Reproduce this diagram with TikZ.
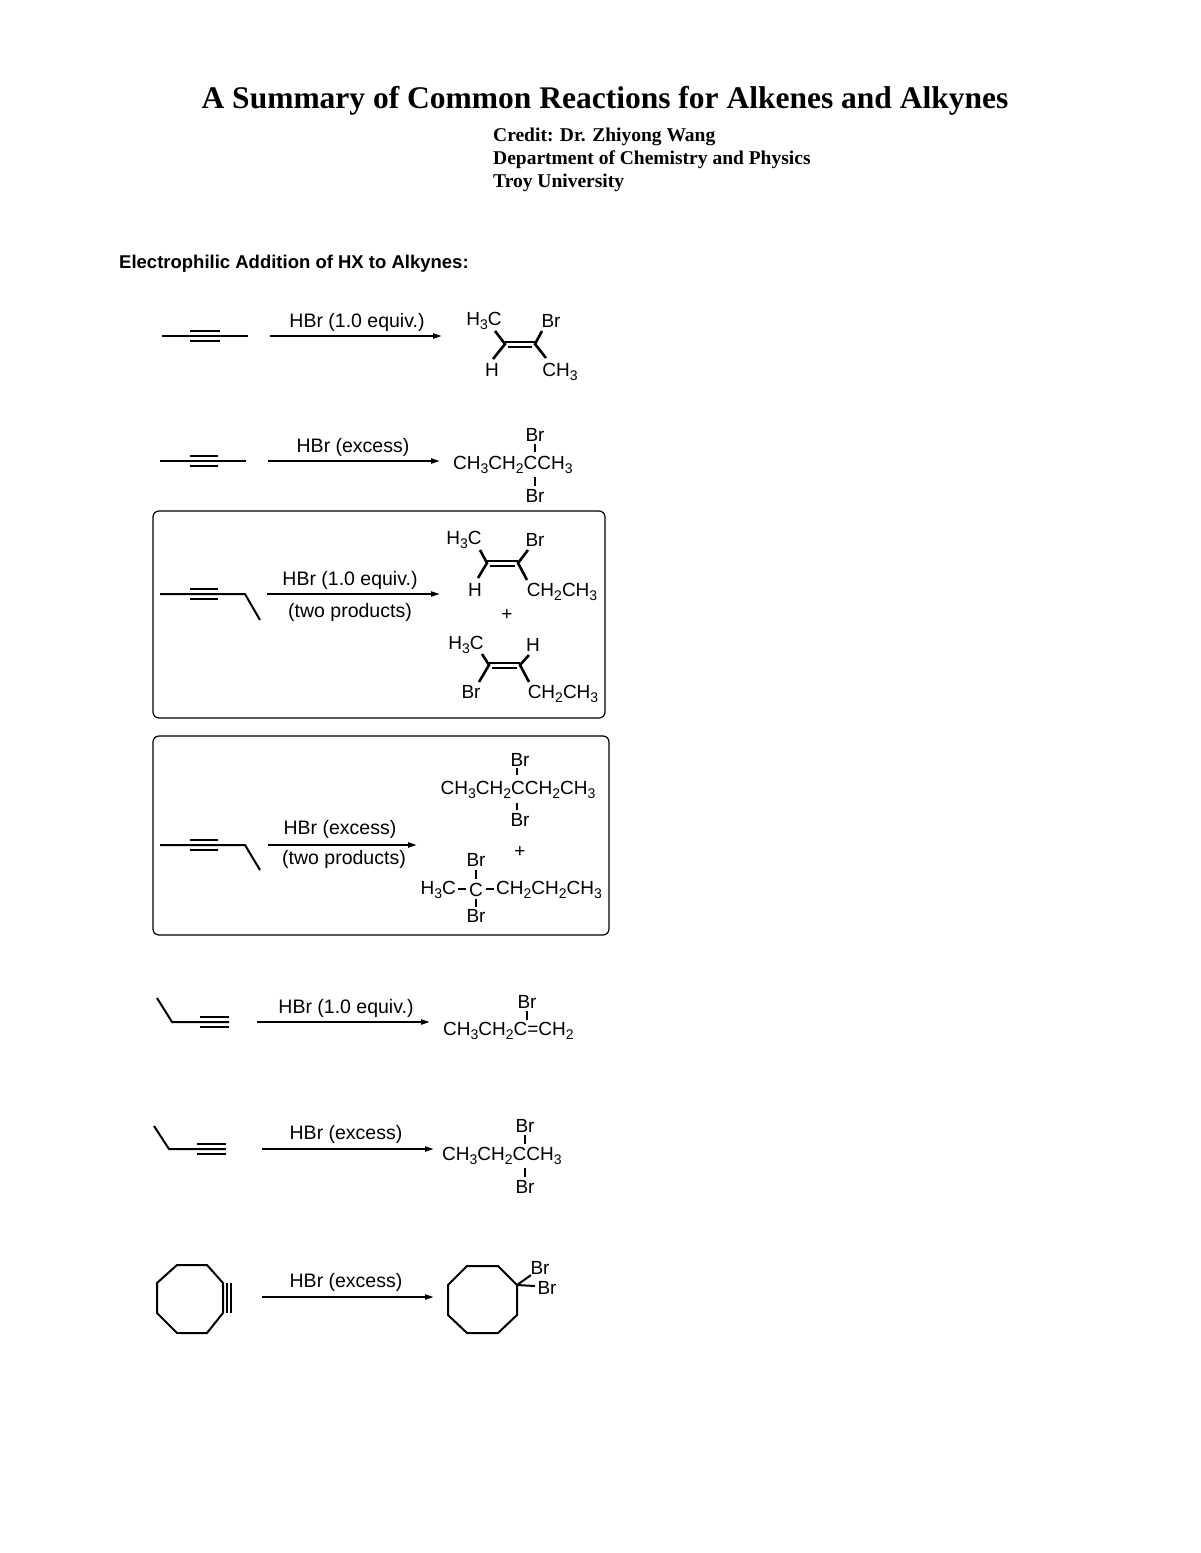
\documentclass[tikz,border=0pt]{standalone}
\usepackage{fontspec}
\setmainfont{Liberation Sans}
\newfontfamily\tms{Liberation Serif}
\usetikzlibrary{arrows.meta}
\newcommand{\sbs}[1]{\raisebox{-0.35ex}{\fontsize{14}{14}\selectfont #1}}
\begin{document}
\begin{tikzpicture}[x=1pt,y=-1pt,
  bd/.style={line width=2pt},
  bdt/.style={line width=2.6pt},
  thin/.style={line width=1.2pt},
  rx/.style={line width=2pt,-{Triangle[length=9pt,width=5pt]}},
  lab/.style={font=\fontsize{19.5}{21}\selectfont,inner sep=0pt},
  ch/.style={font=\fontsize{19}{21}\selectfont,inner sep=0pt},
  bx/.style={draw,line width=1.2pt,rounded corners=6pt}]
\useasboundingbox (0,0) rectangle (1200,1553);
\node[font=\tms\bfseries\fontsize{31.5}{34}\selectfont,inner sep=0pt] (title) at (605,101) {A Summary of Common Reactions for Alkenes and Alkynes};
\node[font=\tms\bfseries\fontsize{19.5}{22}\selectfont,anchor=west,inner sep=0pt] (c1) at (493,137) {Credit: Dr. Zhiyong Wang};
\node[font=\tms\bfseries\fontsize{19.5}{22}\selectfont,anchor=west,inner sep=0pt] (c2) at (493,160) {Department of Chemistry and Physics};
\node[font=\tms\bfseries\fontsize{19.5}{22}\selectfont,anchor=west,inner sep=0pt] (c3) at (493,183) {Troy University};
\node[font=\bfseries\fontsize{18.5}{20}\selectfont,anchor=west,inner sep=0pt] (hd) at (119,264) {Electrophilic Addition of HX to Alkynes:};

% Reaction 1
\draw[bd] (162,336) -- (248,336);
\draw[bd] (190,331) -- (220,331) (190,341) -- (220,341);
\coordinate (a1s) at (270,336); \coordinate (a1e) at (442,336);
\draw[rx] (a1s) -- (a1e);
\node[lab] (l1) at (357,322) {HBr (1.0 equiv.)};
\node[ch] (p1a) at (484,321) {H\sbs{3}C};
\node[ch] (p1b) at (551,321) {Br};
\node[ch] (p1c) at (492,370) {H};
\node[ch] (p1d) at (560,372) {CH\sbs{3}};
\draw[bd] (505,342) -- (535,342) (508,347) -- (532,347);
\draw[bdt] (495,331) -- (505,344) -- (493,359);
\draw[bdt] (542,331) -- (535,344) -- (546,358);

% Reaction 2
\draw[bd] (160,461) -- (246,461);
\draw[bd] (190,456) -- (218,456) (190,466) -- (218,466);
\coordinate (a2s) at (268,461); \coordinate (a2e) at (440,461);
\draw[rx] (a2s) -- (a2e);
\node[lab] (l2) at (353,447) {HBr (excess)};
\node[ch,anchor=west] (p2) at (453,465) {CH\sbs{3}CH\sbs{2}CCH\sbs{3}};
\node[ch] (p2a) at (535,435) {Br};
\node[ch] (p2b) at (535,496) {Br};
\draw[bd] (535,444) -- (535,452) (535,477) -- (535,486);

% Box 1
\draw[bx] (153,511) rectangle (605,718);
\draw[bd] (160,594) -- (245,594) -- (260,620);
\draw[bd] (190,589) -- (218,589) (190,599) -- (218,599);
\coordinate (a3s) at (267,594); \coordinate (a3e) at (440,594);
\draw[rx] (a3s) -- (a3e);
\node[lab] (l3) at (350,580) {HBr (1.0 equiv.)};
\node[lab] (l3b) at (350,612) {(two products)};
\node[ch] (p3a) at (464,540) {H\sbs{3}C};
\node[ch] (p3b) at (535,540) {Br};
\node[ch] (p3c) at (475,590) {H};
\node[ch] (p3d) at (562,592) {CH\sbs{2}CH\sbs{3}};
\draw[bd] (487,561) -- (518,561) (490,566) -- (515,566);
\draw[bdt] (480,550) -- (487,563) -- (478,578);
\draw[bdt] (528,550) -- (518,563) -- (527,580);
\node[ch] (plus1) at (507,615) {+};
\node[ch] (p4a) at (466,645) {H\sbs{3}C};
\node[ch] (p4b) at (533,645) {H};
\node[ch] (p4c) at (471,692) {Br};
\node[ch] (p4d) at (563,694) {CH\sbs{2}CH\sbs{3}};
\draw[bd] (489,663) -- (520,663) (492,668) -- (517,668);
\draw[bdt] (482,654) -- (489,665) -- (479,682);
\draw[bdt] (529,655) -- (520,665) -- (529,682);

% Box 2
\draw[bx] (153,736) rectangle (609,935);
\draw[bd] (160,845) -- (245,845) -- (260,870);
\draw[bd] (190,840) -- (218,840) (190,850) -- (218,850);
\coordinate (a4s) at (268,845); \coordinate (a4e) at (417,845);
\draw[rx] (a4s) -- (a4e);
\node[lab] (l4) at (340,829) {HBr (excess)};
\node[lab] (l4b) at (344,859) {(two products)};
\node[ch] (p5) at (518,790) {CH\sbs{3}CH\sbs{2}CCH\sbs{2}CH\sbs{3}};
\node[ch] (p5a) at (520,760) {Br};
\node[ch] (p5b) at (520,820) {Br};
\draw[thin] (517,768) -- (517,775) (517,803) -- (517,810);
\node[ch] (plus2) at (520,852) {+};
\node[ch,anchor=east] (p6l) at (456,890) {H\sbs{3}C};
\node[ch] (p6c) at (476,890) {C};
\node[ch,anchor=west] (p6r) at (496,890) {CH\sbs{2}CH\sbs{2}CH\sbs{3}};
\node[ch] (p6a) at (476,860) {Br};
\node[ch] (p6b) at (476,916) {Br};
\draw[bd] (p6l.east) ++(2,-1) -- ++(8,0);
\draw[bd] (p6r.west) ++(-10,-1) -- ++(8,0);
\draw[bd] (476,870) -- (476,879) (476,899) -- (476,907);

% Reaction 5
\draw[bd] (157,998) -- (172,1022) -- (229,1022);
\draw[bd] (200,1017) -- (229,1017) (200,1027) -- (229,1027);
\coordinate (a5s) at (257,1022); \coordinate (a5e) at (430,1022);
\draw[rx] (a5s) -- (a5e);
\node[lab] (l5) at (346,1008) {HBr (1.0 equiv.)};
\node[ch,anchor=west] (p7) at (443,1031) {CH\sbs{3}CH\sbs{2}C=CH\sbs{2}};
\node[ch] (p7a) at (527,1002) {Br};
\draw[bd] (527,1011) -- (527,1020);

% Reaction 6
\draw[bd] (154,1126) -- (169,1149) -- (226,1149);
\draw[bd] (197,1144) -- (226,1144) (197,1154) -- (226,1154);
\coordinate (a6s) at (262,1149); \coordinate (a6e) at (434,1149);
\draw[rx] (a6s) -- (a6e);
\node[lab] (l6) at (346,1134) {HBr (excess)};
\node[ch,anchor=west] (p8) at (442,1156) {CH\sbs{3}CH\sbs{2}CCH\sbs{3}};
\node[ch] (p8a) at (525,1126) {Br};
\node[ch] (p8b) at (525,1187) {Br};
\draw[bd] (525,1135) -- (525,1144) (525,1168) -- (525,1177);

% Reaction 7
\draw[bd,line join=round] (177,1265) -- (207,1265) -- (223,1283) -- (223,1313) -- (207,1333) -- (177,1333) -- (157,1313) -- (157,1283) -- cycle;
\draw[bd] (227,1283) -- (227,1313) (231,1283) -- (231,1313);
\coordinate (a7s) at (262,1297); \coordinate (a7e) at (434,1297);
\draw[rx] (a7s) -- (a7e);
\node[lab] (l7) at (346,1282) {HBr (excess)};
\draw[bd,line join=round] (467,1266) -- (498,1266) -- (517,1285) -- (517,1315) -- (498,1333) -- (467,1333) -- (448,1315) -- (448,1285) -- cycle;
\node[ch] (p9a) at (540,1268) {Br};
\node[ch] (p9b) at (547,1288) {Br};
\draw[bd] (517,1285) -- (531,1275) (517,1285) -- (535,1286);
\end{tikzpicture}
\end{document}
